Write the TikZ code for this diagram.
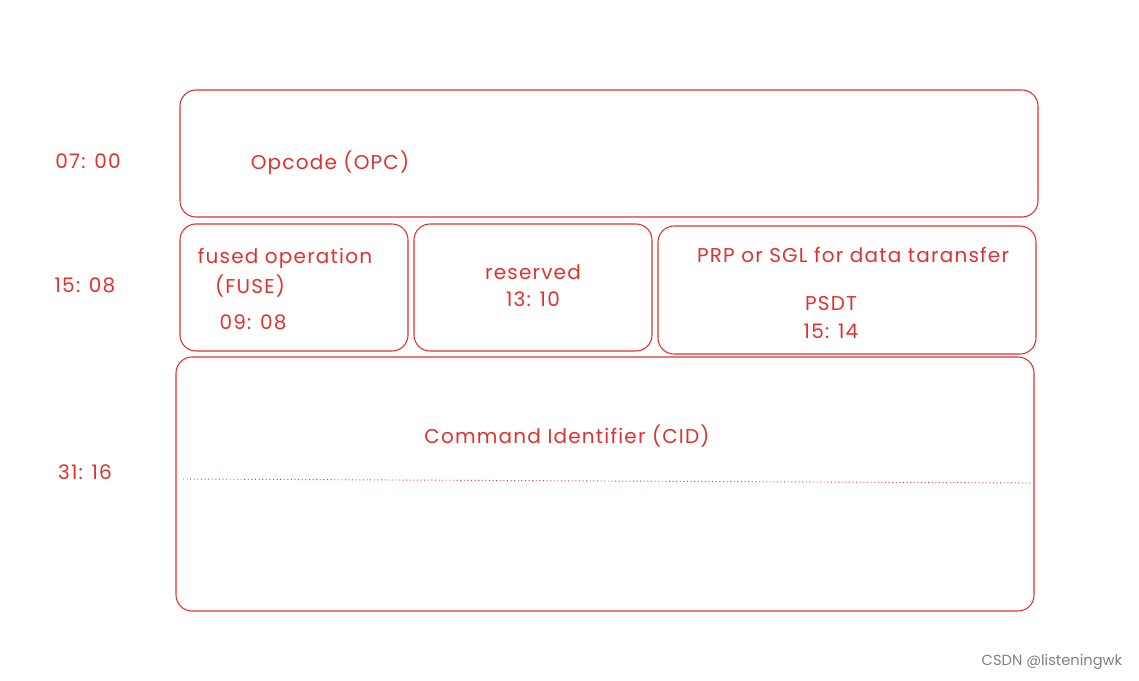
\documentclass[tikz,border=0pt]{standalone}
\usepackage{fontspec}
\setmainfont{Poppins}[LetterSpace=6]
\definecolor{rd}{RGB}{224,49,49}
\begin{document}
\begin{tikzpicture}[x=0.75pt,y=-0.75pt,
  box/.style={draw=rd,line width=0.8pt,rounded corners=12pt},
  lbl/.style={text=rd,font=\fontsize{15}{17}\selectfont,inner sep=0pt}]
\useasboundingbox (0,0) rectangle (1139,681);
\draw[box] (180,90) rectangle (1038,217);
\draw[box] (180,224) rectangle (408,351);
\draw[box] (414,224) rectangle (652,351);
\draw[box] (658,226) rectangle (1036,354);
\draw[box] (176,357) rectangle (1034,611);
\coordinate (d1) at (183,479);
\coordinate (d2) at (1030,483);
\draw[rd,dotted,line width=0.7pt] (d1) -- (d2);
\node[lbl] (r1) at (88,161) {07: 00};
\node[lbl] (r2) at (85,285) {15: 08};
\node[lbl] (r3) at (85,472) {31: 16};
\node[lbl] (opc) at (330,163) {Opcode (OPC)};
\node[lbl] (f1) at (285,258) {fused operation};
\node[lbl] (f2) at (250,286) {(FUSE)};
\node[lbl] (f3) at (253,322) {09: 08};
\node[lbl] (rs1) at (533,272) {reserved};
\node[lbl] (rs2) at (533,299) {13: 10};
\node[lbl] (p1) at (853,255) {PRP or SGL for data taransfer};
\node[lbl] (p2) at (831,304) {PSDT};
\node[lbl] (p3) at (831,331) {15: 14};
\node[lbl] (cid) at (567,436) {Command Identifier (CID)};
\node[text=gray,font=\fontsize{11}{13}\selectfont\addfontfeature{LetterSpace=0},inner sep=0pt] (wm) at (1052,662) {CSDN @listeningwk};
\end{tikzpicture}
\end{document}
